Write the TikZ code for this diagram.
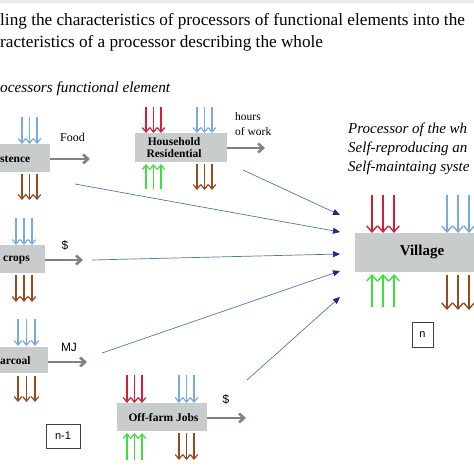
\documentclass[tikz,border=0pt]{standalone}
\usepackage{fontspec}
\setmainfont{Liberation Serif}
\setsansfont{Liberation Sans}
\usetikzlibrary{arrows.meta}
\definecolor{boxgray}{RGB}{200,204,204}
\definecolor{arrgray}{RGB}{122,132,132}
\definecolor{inred}{RGB}{215,30,55}
\definecolor{inblue}{RGB}{120,170,225}
\definecolor{outbrown}{RGB}{150,75,30}
\definecolor{ingreen}{RGB}{60,225,60}
\definecolor{linkblue}{RGB}{80,120,170}
\definecolor{tipblue}{RGB}{20,45,140}
\begin{document}
\begin{tikzpicture}[x=1pt,y=-1pt,
  pbox/.style={fill=boxgray,inner sep=0pt,anchor=north west},
  lbl/.style={font=\fontsize{11.5}{12.5}\selectfont\bfseries,inner sep=0pt},
  small/.style={line width=1.2pt,-{Straight Barb[length=4.5pt,width=7.5pt]}},
  big/.style={line width=1.4pt,-{Straight Barb[length=6pt,width=10.5pt]}},
  redarr/.style={draw=inred},
  bluearr/.style={draw=inblue},
  brownarr/.style={draw=outbrown},
  greenarr/.style={draw=ingreen},
  grayarr/.style={draw=arrgray,line width=2.6pt,-{Straight Barb[length=5pt,width=9pt]}},
  link/.style={draw=linkblue,line width=0.7pt,-{Triangle[length=7pt,width=6pt,color=tipblue]}},
  nbox/.style={draw=black!75,line width=0.6pt,inner sep=0pt,font=\sffamily\fontsize{11}{12}\selectfont},
  plain/.style={inner sep=0pt,font=\fontsize{12}{13}\selectfont},
  sans/.style={inner sep=0pt,font=\sffamily\fontsize{12}{13}\selectfont}]
\useasboundingbox (0,0) rectangle (474,474);
\clip (0,0) rectangle (474,474);
\fill[black!8] (0,0) rectangle (474,3);

% title
\node[inner sep=0pt,anchor=west,font=\fontsize{17.2}{19}\selectfont] (t1) at (0,21) {ling the characteristics of processors of functional elements into the};
\node[inner sep=0pt,anchor=west,font=\fontsize{17.2}{19}\selectfont] (t2) at (0,43) {racteristics of a processor describing the whole};
\node[inner sep=0pt,anchor=west,font=\itshape\fontsize{15.3}{17}\selectfont] (t3) at (0,89) {ocessors functional element};

% Subsistence
\path node[pbox,minimum width=50,minimum height=28] (sub) at (0,144) {};
\node[lbl,anchor=west] (subt) at (0,159) {stence};
\foreach \x in {22,29.5,37} \draw[small,bluearr] (\x,117) -- (\x,144);
\foreach \x in {22,29.5,37} \draw[small,brownarr] (\x,174) -- (\x,200);
\coordinate (subo) at (90,159);
\draw[grayarr] (sub.east |- subo) -- (subo);
\node[plain,anchor=west] (food) at (60,137) {Food};

% Household
\path node[pbox,minimum width=92,minimum height=29] (hh) at (135,133) {};
\node[lbl,align=center] (hht) at (174,147.5) {Household\\Residential};
\foreach \x in {146,153.5,161} \draw[small,redarr] (\x,107) -- (\x,133);
\foreach \x in {197,204.5,212} \draw[small,bluearr] (\x,107) -- (\x,133);
\foreach \x in {146,153.5,161} \draw[small,greenarr] (\x,189) -- (\x,164);
\foreach \x in {197,204.5,212} \draw[small,brownarr] (\x,164) -- (\x,190);
\coordinate (hho) at (265,148);
\draw[grayarr] (hh.east |- hho) -- (hho);
\node[plain,anchor=west,align=left,font=\fontsize{11.5}{15.5}\selectfont] (hours) at (235,124) {hours\\of work};

% Crops
\path node[pbox,minimum width=45,minimum height=28] (crops) at (0,245) {};
\node[lbl,anchor=west] (cropst) at (3,260) {crops};
\foreach \x in {16,24,32} \draw[small,bluearr] (\x,218) -- (\x,245);
\foreach \x in {16,24,32} \draw[small,brownarr] (\x,275) -- (\x,302);
\coordinate (cropo) at (83,260);
\draw[grayarr] (crops.east |- cropo) -- (cropo);
\node[sans] (dol1) at (65,245) {\$};

% Charcoal
\path node[pbox,minimum width=48,minimum height=26] (char) at (0,347) {};
\node[lbl,anchor=west] (chart) at (0,361) {arcoal};
\foreach \x in {18,26.5,35} \draw[small,bluearr] (\x,319) -- (\x,346);
\foreach \x in {18,26.5,35} \draw[small,brownarr] (\x,376) -- (\x,402);
\coordinate (charo) at (87,362);
\draw[grayarr] (char.east |- charo) -- (charo);
\node[sans] (mj) at (69,347) {MJ};

% Off-farm Jobs
\path node[pbox,minimum width=90,minimum height=28] (off) at (117,403) {};
\node[lbl] (offt) at (163.5,418) {Off-farm Jobs};
\foreach \x in {127,134.5,142} \draw[small,redarr] (\x,375) -- (\x,403);
\foreach \x in {179,186.5,194} \draw[small,bluearr] (\x,375) -- (\x,403);
\foreach \x in {127,134.5,142} \draw[small,greenarr] (\x,460) -- (\x,433);
\foreach \x in {179,186.5,194} \draw[small,brownarr] (\x,433) -- (\x,460);
\coordinate (offo) at (246,418);
\draw[grayarr] (off.east |- offo) -- (offo);
\node[sans] (dol2) at (226,399) {\$};

\node[nbox,minimum width=34,minimum height=24] (nm1) at (63,436) {n-1};

% Village
\path node[pbox,minimum width=125,minimum height=39] (vil) at (355,233) {};
\node[inner sep=0pt,font=\fontsize{15}{16}\selectfont\bfseries] (vilt) at (422,252) {Village};
\foreach \x in {372,383,394} \draw[big,redarr] (\x,195) -- (\x,233);
\foreach \x in {447,458,469} \draw[big,bluearr] (\x,195) -- (\x,233);
\foreach \x in {372,383,394} \draw[big,greenarr] (\x,307) -- (\x,274);
\foreach \x in {447,458,469} \draw[big,brownarr] (\x,275) -- (\x,310);
\node[nbox,minimum width=21,minimum height=25] (n) at (422.5,334.5) {n};

\node[inner sep=0pt,anchor=west,align=left,font=\itshape\fontsize{15}{19}\selectfont] (proc) at (348,149) {Processor of the wh\\Self-reproducing an\\Self-maintaing syste};

% connectors
\coordinate (s1) at (243,170); \coordinate (e1) at (340,215);
\coordinate (s2) at (75,184);  \coordinate (e2) at (340,232);
\coordinate (s3) at (92,260);  \coordinate (e3) at (340,254);
\coordinate (s4) at (102,353); \coordinate (e4) at (340,271);
\coordinate (s5) at (247,380); \coordinate (e5) at (340,297);
\draw[link] (s1) -- (e1);
\draw[link] (s2) -- (e2);
\draw[link] (s3) -- (e3);
\draw[link] (s4) -- (e4);
\draw[link] (s5) -- (e5);
\end{tikzpicture}
\end{document}
